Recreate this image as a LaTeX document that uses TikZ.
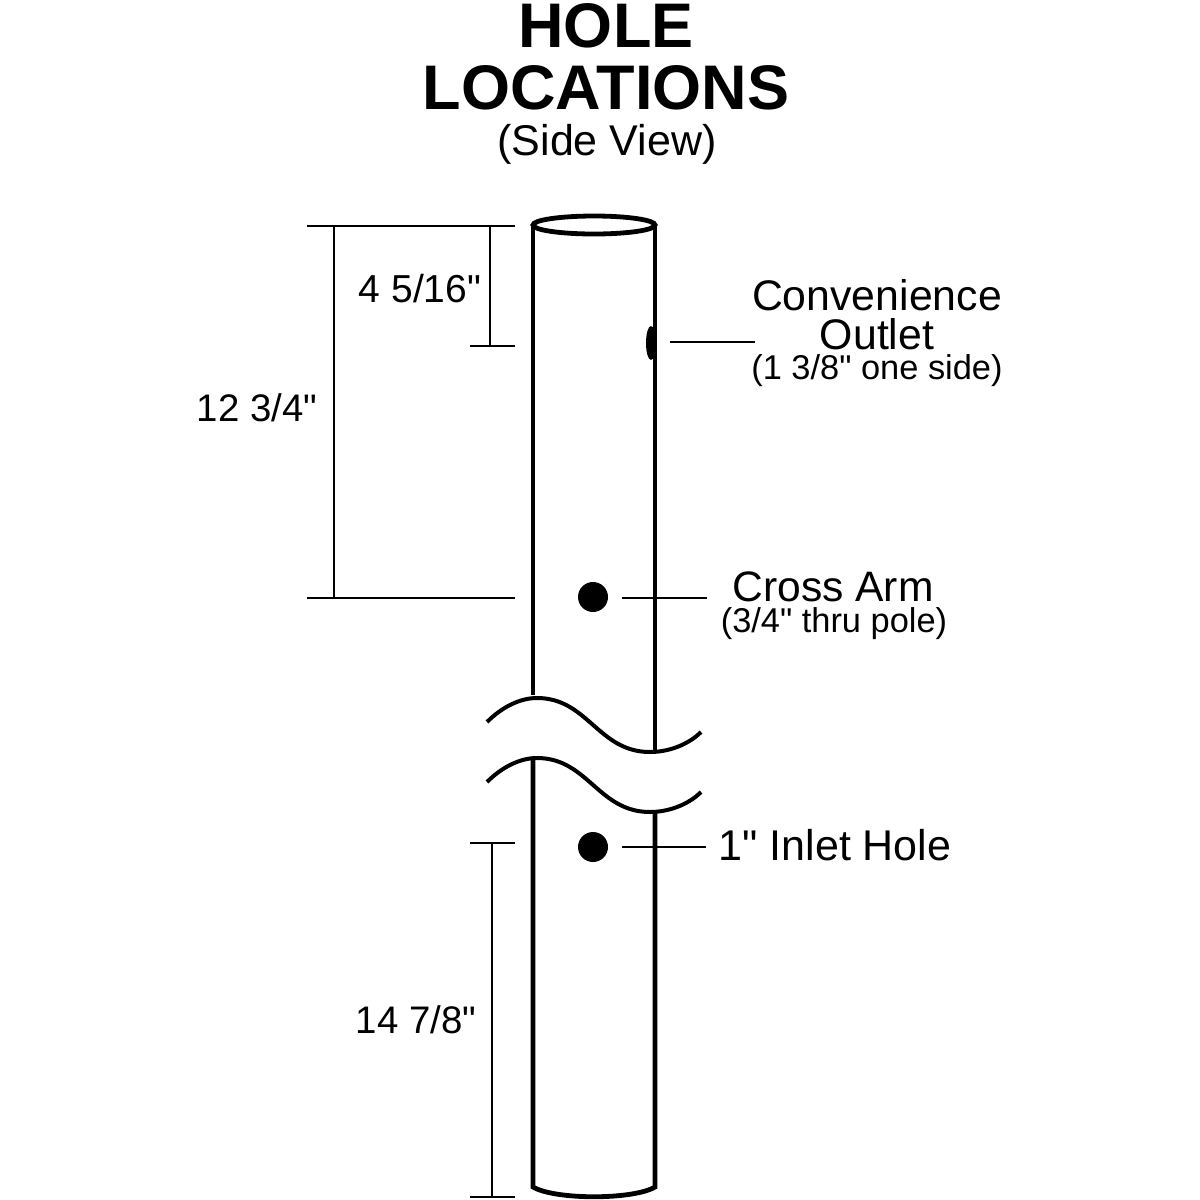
\documentclass[tikz,border=0pt]{standalone}
\usepackage{fontspec}
\setmainfont{Liberation Sans}[Ligatures=TeXOff]
\tikzset{
  pole/.style={line width=2.4pt,black},
  dim/.style={line width=1pt,black},
  hole/.style={circle,fill=black,inner sep=0pt,minimum size=15pt},
  lbl/.style={inner sep=0pt,anchor=center,align=center},
  wave/.style={line width=2pt,black},
}
\newcommand{\lblsize}[1]{\fontsize{#1}{#1}\selectfont}
\begin{document}
\begin{tikzpicture}[x=0.5pt,y=-0.5pt]
\useasboundingbox (0,0) rectangle (1200,1200);
\fill[white] (0,0) rectangle (1200,1200);
% title
\node[lbl] (t1) at (606,26) {\lblsize{31.5}\bfseries HOLE};
\node[lbl] (t2) at (606,88) {\lblsize{31.5}\bfseries LOCATIONS};
\node[lbl] (t3) at (607,144) {\lblsize{21.5}(Side View)};
% pole
\draw[pole] (533,225) -- (533,695);
\draw[pole] (655,225) -- (655,752);
\draw[pole] (533,758) -- (533,1187) .. controls (555,1200) and (633,1200) .. (655,1187) -- (655,812);
\draw[pole] (594,225) ellipse [x radius=61,y radius=9];
% break curves
\draw[wave] (487,722) .. controls (502,707) and (520,698) .. (537,698) .. controls (588,698) and (598,752) .. (650,752) .. controls (668,752) and (688,745) .. (701,732);
\draw[wave] (487,782) .. controls (502,767) and (520,758) .. (537,758) .. controls (588,758) and (598,812) .. (650,812) .. controls (668,812) and (688,805) .. (701,792);
% holes
\node[hole] (crossarm) at (593,597) {};
\node[hole] (inlet) at (593,847) {};
\fill (651,343) ellipse [x radius=5,y radius=17];
% dimensions
\draw[dim] (307,225.5) -- (515,225.5);
\draw[dim] (307,597.5) -- (515,597.5);
\draw[dim] (334,225.5) -- (334,597.5);
\draw[dim] (470,346) -- (515,346);
\draw[dim] (490,225.5) -- (490,346);
\draw[dim] (470,843) -- (515,843);
\draw[dim] (470,1197) -- (515,1197);
\draw[dim] (492,843) -- (492,1197);
% labels
\node[lbl] (d1) at (420,289) {\lblsize{19.5}4 5/16"};
\node[lbl] (d2) at (257,408) {\lblsize{19.2}12 3/4"};
\node[lbl] (d3) at (416,1020) {\lblsize{19.2}14 7/8"};
\node[lbl] (c1) at (877,295) {\lblsize{21.4}Convenience};
\node[lbl] (c2) at (877,334) {\lblsize{21.4}Outlet};
\node[lbl] (c3) at (877,371) {\lblsize{17.2}(1 3/8" one side)};
\node[lbl] (a1) at (833,587) {\lblsize{21.3}Cross Arm};
\node[lbl] (a2) at (834,624) {\lblsize{17.2}(3/4" thru pole)};
\node[lbl] (i1) at (835,845) {\lblsize{21.5}1" Inlet Hole};
% leaders
\coordinate (ol) at (670,342);
\coordinate (or) at (755,342);
\coordinate (al) at (622,598);
\coordinate (ar) at (707,598);
\coordinate (il) at (622,847);
\coordinate (ir) at (706,847);
\draw[dim] (ol) -- (or);
\draw[dim] (al) -- (ar);
\draw[dim] (il) -- (ir);
\end{tikzpicture}
\end{document}
